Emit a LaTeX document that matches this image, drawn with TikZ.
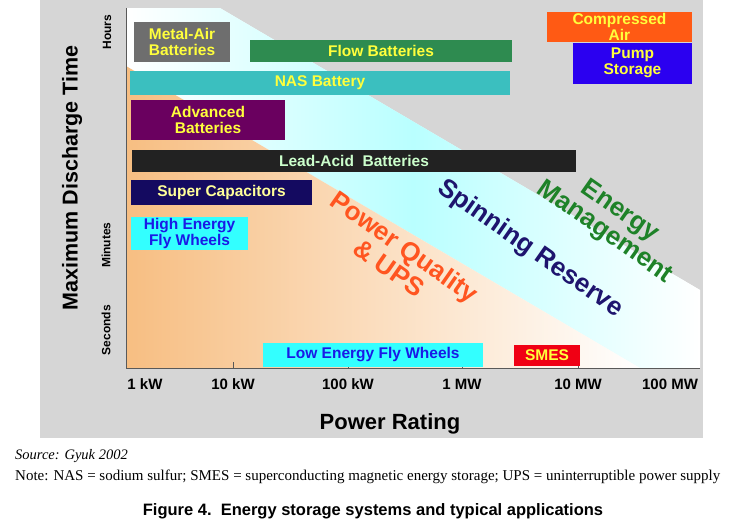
\documentclass[tikz,border=0pt]{standalone}
\usepackage{fontspec}
\setmainfont{Liberation Sans}
\newfontfamily\serifnote{Liberation Serif}
\begin{document}
\begin{tikzpicture}[x=1pt,y=-1pt,
  bx/.style={font=\fontsize{15.5}{16.5}\selectfont\bfseries, align=center, inner sep=0pt, anchor=center},
  ax/.style={font=\fontsize{15}{16}\selectfont\bfseries},
  big/.style={font=\fontsize{26}{26}\selectfont\bfseries, align=center}]
\useasboundingbox (0,0) rectangle (753,523);
\fill[white] (0,0) rectangle (753,523);
\definecolor{bg}{RGB}{214,214,214}
\fill[bg] (40,0) rectangle (703,438);
% plot area
\fill[white] (126,8) rectangle (700,368);
\fill[bg] (220,8) -- (700,8) -- (700,290) -- cycle;
\shade[left color=white, right color=white, middle color={rgb,255:red,185;green,255;blue,255}]
  (126,8) -- (220,8) -- (700,290) -- (700,368) -- (640,368) -- (126,66) -- cycle;
\shade[left color={rgb,255:red,247;green,190;blue,130}, right color=white]
  (126,66) -- (640,368) -- (126,368) -- cycle;
\draw[line width=0.8pt,gray!70!black] (126,8) -- (126,368) -- (700,368);
\foreach \t in {233,348,462,578} \draw[gray!70!black] (\t,362) -- (\t,368);
% boxes
\node[fill={rgb,255:red,110;green,110;blue,110}, minimum width=96pt, minimum height=40pt, bx, text={rgb,255:red,255;green,255;blue,60}] (ma) at (182,42) {Metal-Air\\Batteries};
\node[fill={rgb,255:red,46;green,139;blue,80}, minimum width=262pt, minimum height=22pt, bx, text={rgb,255:red,255;green,255;blue,60}] (fb) at (381,51) {Flow Batteries};
\node[fill={rgb,255:red,59;green,191;blue,191}, minimum width=380pt, minimum height=24pt, bx, text={rgb,255:red,255;green,255;blue,60}] (nas) at (320,83) {NAS Battery};
\node[fill={rgb,255:red,106;green,0;blue,95}, minimum width=154pt, minimum height=40pt, bx, text={rgb,255:red,255;green,255;blue,60}] (adv) at (208,120) {Advanced\\Batteries};
\node[fill={rgb,255:red,34;green,34;blue,34}, minimum width=444pt, minimum height=22pt, bx, text={rgb,255:red,204;green,255;blue,204}] (la) at (354,161) {Lead-Acid\ \ Batteries};
\node[fill={rgb,255:red,20;green,10;blue,96}, minimum width=181pt, minimum height=25pt, bx, text={rgb,255:red,255;green,255;blue,153}] (sc) at (221.5,192.5) {Super Capacitors};
\node[fill={rgb,255:red,51;green,255;blue,255}, minimum width=117pt, minimum height=33pt, bx, text={rgb,255:red,26;green,26;blue,230}] (hf) at (189.5,233.5) {High Energy\\Fly Wheels};
\node[fill={rgb,255:red,51;green,255;blue,255}, minimum width=220pt, minimum height=24pt, bx, text={rgb,255:red,26;green,26;blue,230}] (lf) at (373,355) {Low Energy Fly Wheels};
\node[fill={rgb,255:red,240;green,0;blue,20}, minimum width=66pt, minimum height=21pt, bx, text={rgb,255:red,255;green,255;blue,60}] (sm) at (547,355.5) {SMES};
\node[fill={rgb,255:red,255;green,90;blue,20}, minimum width=145pt, minimum height=30pt, bx, text={rgb,255:red,255;green,255;blue,60}] (ca) at (619.5,27) {Compressed\\Air};
\node[fill={rgb,255:red,43;green,0;blue,240}, minimum width=119pt, minimum height=41pt, bx, text={rgb,255:red,255;green,255;blue,60}] (ps) at (632.5,63) {Pump\\Storage};
% application labels
\node[big, text={rgb,255:red,30;green,130;blue,40}, rotate=-35] (em) at (612,222) {Energy\\Management};
\node[big, text={rgb,255:red,30;green,20;blue,110}, rotate=-35] (sr) at (530,249) {Spinning Reserve};
\node[big, text={rgb,255:red,255;green,85;blue,32}, rotate=-35] (pq) at (397,257) {Power Quality\\\& UPS};
% axes
\node[font=\fontsize{21.5}{23}\selectfont\bfseries, rotate=90] (yl) at (72,178) {Maximum Discharge Time};
\node[ax, font=\fontsize{12}{13}\selectfont\bfseries, rotate=90] (h) at (107,32) {Hours};
\node[ax, font=\fontsize{12}{13}\selectfont\bfseries, rotate=90] (m) at (106,245) {Minutes};
\node[ax, font=\fontsize{12}{13}\selectfont\bfseries, rotate=90] (s) at (106,330) {Seconds};
\foreach \x/\l [count=\i] in {145/1 kW,233/10 kW,348/100 kW,462/1 MW,578/10 MW,670/100 MW}
  \node[ax] (t\i) at (\x,384) {\l};
\node[font=\fontsize{22}{24}\selectfont\bfseries] (xl) at (390,424) {Power Rating};
% notes
\node[anchor=west, font=\serifnote\itshape\fontsize{14.5}{16}\selectfont, inner sep=0pt] (src) at (15,456) {Source: Gyuk 2002};
\node[anchor=west, font=\serifnote\fontsize{15}{16}\selectfont, inner sep=0pt] (note) at (15,477) {Note: NAS = sodium sulfur; SMES = superconducting magnetic energy storage; UPS = uninterruptible power supply};
\node[font=\fontsize{16.5}{18}\selectfont\bfseries] (cap) at (373,511) {Figure 4.\ \ Energy storage systems and typical applications};
\end{tikzpicture}
\end{document}
